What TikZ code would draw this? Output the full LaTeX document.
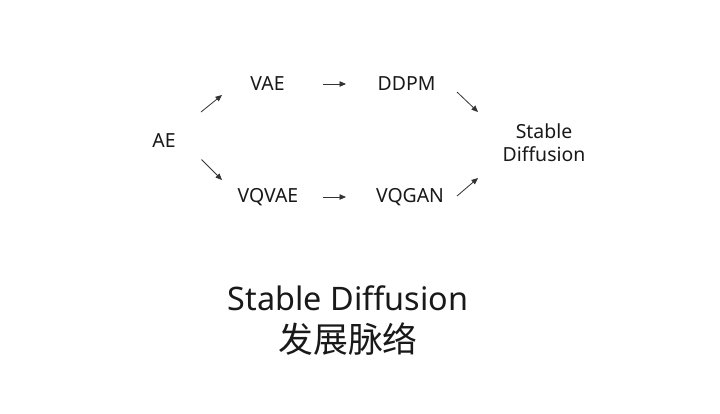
\documentclass[tikz,border=0pt]{standalone}
\usepackage{fontspec}
\setmainfont{Noto Sans}
\newfontfamily\cjk{Noto Sans CJK SC}
\usetikzlibrary{arrows.meta}
\begin{document}
\begin{tikzpicture}[x=1bp,y=-1bp,
  lbl/.style={inner sep=0pt, font=\fontsize{19.5}{23.5}\selectfont, text=black!90},
  arr/.style={-{Triangle[length=6.5bp,width=5.5bp]}, line width=0.8bp, black!80}]
\useasboundingbox[fill=white] (0,0) rectangle (720,413);
\node[lbl] (AE) at (164,141) {AE};
\node[lbl] (VAE) at (267.5,84) {VAE};
\node[lbl] (DDPM) at (406.5,84) {DDPM};
\node[lbl] (VQVAE) at (268,197.5) {VQVAE};
\node[lbl] (VQGAN) at (410,197.5) {VQGAN};
\node[lbl, align=center] (SD) at (544,142.5) {Stable\\Diffusion};
\node[inner sep=0pt, font=\fontsize{32.5}{38}\selectfont, text=black!90] (T1) at (348,298) {Stable Diffusion};
\node[inner sep=0pt, font=\cjk\fontsize{35}{40}\selectfont, text=black!90] (T2) at (348,339) {发展脉络};
\coordinate (a1s) at (201,112); \coordinate (a1e) at (222,95);
\coordinate (a2s) at (201.5,159.5); \coordinate (a2e) at (222,180);
\coordinate (a3s) at (323,84); \coordinate (a3e) at (346,84);
\coordinate (a4s) at (323,197); \coordinate (a4e) at (346,197);
\coordinate (a5s) at (457,92); \coordinate (a5e) at (478,112);
\coordinate (a6s) at (457,196); \coordinate (a6e) at (478,178);
\draw[arr] (a1s) -- (a1e);
\draw[arr] (a2s) -- (a2e);
\draw[arr] (a3s) -- (a3e);
\draw[arr] (a4s) -- (a4e);
\draw[arr] (a5s) -- (a5e);
\draw[arr] (a6s) -- (a6e);
\end{tikzpicture}
\end{document}
